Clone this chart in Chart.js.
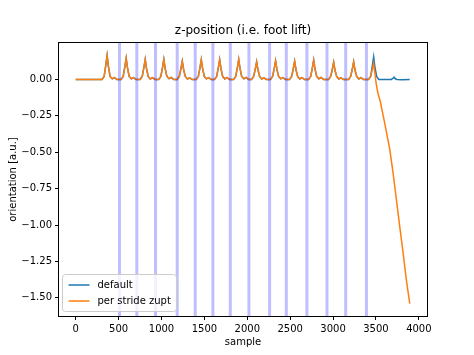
<!DOCTYPE html>
<html lang="en">
<head>
    <meta charset="UTF-8">
    <title>z-position (i.e. foot lift)</title>
    <script src="https://cdn.jsdelivr.net/npm/chart.js"></script>
    <style>
        html, body { margin: 0; padding: 0; background: #fff; }
        canvas { display: block; }
    </style>
</head>
<body>
    <canvas id="zChart" width="474" height="355"></canvas>

    <script>
        // samples shared by both runs (they overlap up to the last stride)
        const commonSample = [
            0, 306, 331, 351, 366, 381, 401, 426, 451, 481,
            528, 553, 573, 588, 603, 623, 648, 673, 703,
            750, 775, 795, 810, 825, 845, 870, 895, 925,
            967, 992, 1012, 1027, 1042, 1062, 1087, 1112, 1142,
            1182, 1207, 1227, 1242, 1257, 1277, 1302, 1327, 1357,
            1404, 1429, 1449, 1464, 1479, 1499, 1524, 1549, 1579,
            1618, 1643, 1663, 1678, 1693, 1713, 1738, 1763, 1793,
            1840, 1865, 1885, 1900, 1915, 1935, 1960, 1985, 2015,
            2049, 2074, 2094, 2109, 2124, 2144, 2169, 2194, 2224,
            2270, 2295, 2315, 2330, 2345, 2365, 2390, 2415, 2445,
            2492, 2517, 2537, 2552, 2567, 2587, 2612, 2637, 2667,
            2714, 2739, 2759, 2774, 2789, 2809, 2834, 2859, 2889,
            2947, 2972, 2992, 3007, 3022, 3042, 3067, 3092, 3122,
            3180, 3205, 3225, 3240, 3255, 3275, 3300, 3325, 3355,
            3413
        ];
        const commonZ = [
            0, 0, 0.02, 0.10, 0.165, 0.09, 0.02, 0.004, 0.012, 0,
            0, 0.02, 0.088, 0.145, 0.08, 0.02, 0.004, 0.012, 0,
            0, 0.02, 0.083, 0.137, 0.075, 0.02, 0.003, 0.012, 0,
            0, 0.02, 0.083, 0.137, 0.075, 0.022, 0.005, 0.013, 0,
            0, 0.02, 0.076, 0.125, 0.07, 0.02, 0.003, 0.011, 0,
            0, 0.02, 0.082, 0.135, 0.074, 0.02, 0.004, 0.012, 0,
            0, 0.02, 0.082, 0.135, 0.074, 0.021, 0.003, 0.012, 0,
            0, 0.02, 0.083, 0.137, 0.075, 0.02, 0.004, 0.013, 0,
            0, 0.02, 0.073, 0.12, 0.066, 0.02, 0.003, 0.011, 0,
            0, 0.02, 0.077, 0.127, 0.07, 0.02, 0.004, 0.012, 0,
            0, 0.02, 0.076, 0.125, 0.069, 0.02, 0.003, 0.012, 0,
            0, 0.02, 0.081, 0.133, 0.073, 0.021, 0.004, 0.013, 0,
            0, 0.02, 0.071, 0.117, 0.064, 0.02, 0.003, 0.011, 0,
            0, 0.02, 0.073, 0.12, 0.066, 0.02, 0.003, 0.012, 0,
            0
        ];

        // last stride and what follows
        const defaultTailSample = [3438, 3458, 3473, 3488, 3508, 3533, 3600, 3680, 3700, 3712, 3726, 3745, 3800, 3894];
        const defaultTailZ = [0.02, 0.095, 0.155, 0.085, 0.02, 0.0, 0.0, 0.0, 0.008, 0.015, 0.004, 0.0, -0.002, 0.0];
        const zuptTailSample = [3438, 3458, 3473, 3488, 3505, 3525, 3550, 3602, 3661, 3699, 3739, 3777, 3816, 3855, 3894];
        const zuptTailZ = [0.02, 0.07, 0.108, 0.04, -0.04, -0.10, -0.15, -0.30, -0.48, -0.64, -0.83, -1.01, -1.19, -1.38, -1.54];

        // detected stride boundaries (vertical bands)
        const strideMarks = [510, 712, 930, 1183, 1393, 1599, 1802, 2019, 2260, 2455, 2695, 2929, 3147, 3389];

        const xTicks = [0, 500, 1000, 1500, 2000, 2500, 3000, 3500, 4000];
        const yTicks = [0, -0.25, -0.5, -0.75, -1.0, -1.25, -1.5];

        const FONT = '"DejaVu Sans", sans-serif';

        function toPoints(xs, ys) {
            return xs.map((x, i) => ({x: x, y: ys[i]}));
        }

        const defaultData = toPoints(commonSample.concat(defaultTailSample), commonZ.concat(defaultTailZ));
        const zuptData = toPoints(commonSample.concat(zuptTailSample), commonZ.concat(zuptTailZ));

        // stride bands, title, axis labels, frame and legend in matplotlib style
        const decorations = {
            id: 'decorations',
            afterDatasetsDraw(chart) {
                const ctx = chart.ctx;
                const ca = chart.chartArea;
                const xs = chart.scales.x;

                ctx.save();
                ctx.beginPath();
                ctx.rect(ca.left, ca.top, ca.right - ca.left, ca.bottom - ca.top);
                ctx.clip();
                ctx.strokeStyle = 'rgba(0, 0, 255, 0.25)';
                ctx.lineWidth = 3;
                strideMarks.forEach(s => {
                    const px = xs.getPixelForValue(s);
                    ctx.beginPath();
                    ctx.moveTo(px, ca.top);
                    ctx.lineTo(px, ca.bottom);
                    ctx.stroke();
                });
                ctx.restore();

                ctx.save();
                ctx.strokeStyle = '#000';
                ctx.lineWidth = 1;
                ctx.strokeRect(Math.round(ca.left) - 0.5, Math.round(ca.top) - 0.5,
                    Math.round(ca.right - ca.left) + 1, Math.round(ca.bottom - ca.top) + 1);
                ctx.restore();
            },
            afterDraw(chart) {
                const ctx = chart.ctx;
                const ca = chart.chartArea;
                const midX = (ca.left + ca.right) / 2;
                const midY = (ca.top + ca.bottom) / 2;

                ctx.save();
                ctx.fillStyle = '#000';
                ctx.textAlign = 'center';
                ctx.textBaseline = 'middle';
                ctx.font = '12px ' + FONT;
                ctx.fillText('z-position (i.e. foot lift)', midX, 31);
                ctx.font = '10px ' + FONT;
                ctx.fillText('sample', midX, 342);
                ctx.translate(13, midY);
                ctx.rotate(-Math.PI / 2);
                ctx.fillText('orientation [a.u.]', 0, 0);
                ctx.restore();

                // legend box, lower left
                const bx = ca.left + 3.5, by = ca.bottom - 41.5, bw = 114, bh = 37, r = 3;
                ctx.save();
                ctx.beginPath();
                ctx.moveTo(bx + r, by);
                ctx.lineTo(bx + bw - r, by);
                ctx.quadraticCurveTo(bx + bw, by, bx + bw, by + r);
                ctx.lineTo(bx + bw, by + bh - r);
                ctx.quadraticCurveTo(bx + bw, by + bh, bx + bw - r, by + bh);
                ctx.lineTo(bx + r, by + bh);
                ctx.quadraticCurveTo(bx, by + bh, bx, by + bh - r);
                ctx.lineTo(bx, by + r);
                ctx.quadraticCurveTo(bx, by, bx + r, by);
                ctx.closePath();
                ctx.fillStyle = 'rgba(255, 255, 255, 0.8)';
                ctx.fill();
                ctx.strokeStyle = '#cccccc';
                ctx.lineWidth = 1;
                ctx.stroke();

                ctx.font = '10px ' + FONT;
                ctx.textAlign = 'left';
                ctx.textBaseline = 'middle';
                chart.data.datasets.forEach((ds, i) => {
                    const ly = by + 10.5 + i * 16;
                    ctx.strokeStyle = ds.borderColor;
                    ctx.lineWidth = 1.5;
                    ctx.beginPath();
                    ctx.moveTo(bx + 6, ly);
                    ctx.lineTo(bx + 27, ly);
                    ctx.stroke();
                    ctx.fillStyle = '#000';
                    ctx.fillText(ds.label, bx + 35, ly);
                });
                ctx.restore();
            }
        };

        const ctx = document.getElementById('zChart').getContext('2d');

        new Chart(ctx, {
            type: 'line',
            data: {
                datasets: [
                    {
                        label: 'default',
                        data: defaultData,
                        borderColor: '#1f77b4',
                        borderWidth: 1.5,
                        pointRadius: 0,
                        tension: 0,
                        fill: false,
                        order: 1
                    },
                    {
                        label: 'per stride zupt',
                        data: zuptData,
                        borderColor: '#ff7f0e',
                        borderWidth: 1.5,
                        pointRadius: 0,
                        tension: 0,
                        fill: false,
                        order: 0
                    }
                ]
            },
            options: {
                responsive: false,
                animation: false,
                devicePixelRatio: 1,
                layout: {
                    padding: {top: 43, right: 47, bottom: 0, left: 0}
                },
                scales: {
                    x: {
                        type: 'linear',
                        min: -195,
                        max: 4095,
                        afterBuildTicks: s => { s.ticks = xTicks.map(v => ({value: v})); },
                        afterFit: s => { s.height = 39; },
                        border: {display: false},
                        grid: {
                            drawOnChartArea: false,
                            drawTicks: true,
                            tickLength: 4,
                            color: '#000'
                        },
                        ticks: {
                            color: '#000',
                            font: {family: FONT, size: 10},
                            padding: 3,
                            maxRotation: 0,
                            autoSkip: false,
                            callback: v => String(v)
                        }
                    },
                    y: {
                        type: 'linear',
                        min: -1.625,
                        max: 0.25,
                        afterBuildTicks: s => { s.ticks = yTicks.map(v => ({value: v})); },
                        afterFit: s => { s.width = 59; },
                        border: {display: false},
                        grid: {
                            drawOnChartArea: false,
                            drawTicks: true,
                            tickLength: 4,
                            color: '#000'
                        },
                        ticks: {
                            color: '#000',
                            font: {family: FONT, size: 10},
                            padding: 3,
                            autoSkip: false,
                            callback: v => (v < 0 ? '\u2212' : '') + Math.abs(v).toFixed(2)
                        }
                    }
                },
                plugins: {
                    legend: {display: false},
                    title: {display: false},
                    tooltip: {enabled: false}
                }
            },
            plugins: [decorations]
        });
    </script>
</body>
</html>
